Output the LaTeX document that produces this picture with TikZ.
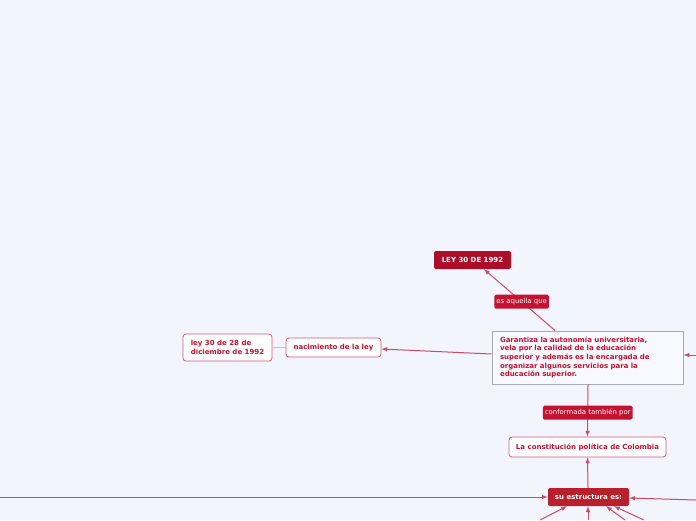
\documentclass[tikz,border=0pt]{standalone}
\usepackage{fontspec}
\setmainfont{DejaVu Sans}
\usetikzlibrary{arrows}
\tikzset{>=latex}
\definecolor{bgcolor}{RGB}{242,245,254}
\definecolor{darkred}{RGB}{172,14,42}
\definecolor{crimson}{RGB}{196,18,48}
\definecolor{boxred}{RGB}{186,32,44}
\definecolor{linkcolor}{RGB}{208,72,100}
\definecolor{graybox}{RGB}{168,170,184}
\definecolor{grayline}{RGB}{190,192,204}
\def\linethickness{1pt}
\tikzset{
  topic/.style={draw=none, fill=darkred, text=white, rounded corners=2pt,
    font=\bfseries\fontsize{7}{8}\selectfont, minimum width=77pt, minimum height=18pt, inner sep=2pt},
  linklabel/.style={draw=none, fill=crimson, text=white, rounded corners=1.5pt,
    font=\fontsize{6.9}{7}\selectfont, minimum height=14pt, inner sep=2pt},
  subtopic/.style={draw=crimson!70, fill=white, text=crimson, rounded corners=3pt, line width=0.8pt,
    font=\bfseries\fontsize{7}{8.6}\selectfont, minimum height=19pt, inner sep=4pt},
  mainbox/.style={draw=graybox, fill=bgcolor!60!white, text=crimson, line width=1pt,
    font=\bfseries\fontsize{7}{8.6}\selectfont, text width=175pt, align=left,
    minimum height=53pt, inner xsep=8pt},
  connector/.style={linkcolor, line width=\linethickness},
}

\begin{document}
\begin{tikzpicture}[x=1pt, y=-1pt]
    \useasboundingbox[fill=bgcolor] (0, 0) rectangle (696, 520);
    % nodes
    \node[topic] (ley) at (472.5, 260) {LEY 30 DE 1992};
    \node[mainbox] (main) at (587.5, 357.5) {Garantiza la autonomía universitaria,\\vela por la calidad de la educación\\superior y además es la encargada de\\organizar algunos servicios para la\\educación superior.};
    \node[subtopic, minimum width=95pt] (nacimiento) at (333.5, 347.5) {nacimiento de la ley};
    \node[subtopic, align=left, minimum width=89pt, minimum height=27pt] (fecha) at (227.5, 347.5) {ley 30 de 28 de\\diciembre de 1992};
    \node[subtopic, minimum width=157pt, minimum height=20pt] (constitucion) at (587.5, 447) {La constitución política de Colombia};
    \node[topic, fill=boxred, minimum width=81pt] (estructura) at (588.5, 497) {su estructura es:};
    % free ends
    \coordinate (right1) at (696, 355);
    \coordinate (left2) at (0, 497);
    \coordinate (right2) at (696, 500);
    \coordinate (below1) at (540, 520);
    \coordinate (below2) at (588, 520);
    \coordinate (below3) at (625, 520);
    \coordinate (below4) at (644, 520);
    % connectors
    \draw[connector, ->] ([xshift=-32.5pt]main.north) -- node[linklabel, pos=0.47] {es aquella que} ([xshift=11.5pt]ley.south);
    \draw[connector, ->] (right1) -- ([yshift=2.5pt]main.east);
    \draw[connector, ->] ([yshift=3.5pt]main.west) -- ([yshift=-1.5pt]nacimiento.east);
    \draw[grayline, line width=1.5pt] (fecha.east) -- (nacimiento.west);
    \draw[connector, ->] ([xshift=0.5pt]main.south) -- node[linklabel, pos=0.54] {conformada también por} (constitucion.north);
    \draw[connector, ->] ([xshift=-0.5pt]estructura.north) -- (constitucion.south);
    \draw[connector, ->] (left2) -- (estructura.west);
    \draw[connector, ->] (right2) -- ([yshift=-1pt]estructura.east);
    \draw[connector, ->] (below1) -- ([xshift=-21.5pt]estructura.south);
    \draw[connector, ->] (below2) -- ([xshift=-0.5pt]estructura.south);
    \draw[connector, ->] (below3) -- ([xshift=17.5pt]estructura.south);
    \draw[connector, ->] (below4) -- ([xshift=25.5pt]estructura.south);
\end{tikzpicture}
\end{document}
